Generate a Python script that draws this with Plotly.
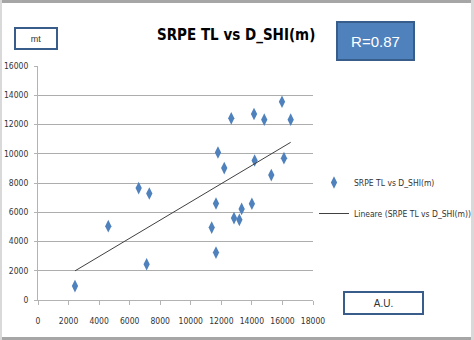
import numpy as np
import plotly.graph_objects as go

# Data
dist_m = [2420, 4600, 6590, 7285, 7110, 11370, 11650, 11650, 11780, 12190, 12650,
          12830, 13180, 13330, 14000, 14180, 14140, 14810, 15270, 15970, 16100, 16540]
srpe_tl = [950, 5050, 7650, 7280, 2440, 4950, 6600, 3240, 10090, 9020, 12420,
           5600, 5480, 6230, 6580, 9540, 12720, 12330, 8540, 13560, 9700, 12330]
x_ticks = [0, 2000, 4000, 6000, 8000, 10000, 12000, 14000, 16000, 18000]
y_ticks = [0, 2000, 4000, 6000, 8000, 10000, 12000, 14000, 16000]
series_name = "SRPE TL vs D_SHI(m)"
trend_name = "Lineare (SRPE TL vs D_SHI(m))"
r_label = "R=0.87"

W, H = 474, 340
ML, MR, MT, MB = 38, 161, 66, 40
PW, PH = W - ML - MR, H - MT - MB

def px(x):
    return (x - ML) / PW

def py(y):
    return (H - MB - y) / PH

slope, intercept = np.polyfit(dist_m, srpe_tl, 1)
tx = [min(dist_m), max(dist_m)]
ty = [slope * v + intercept for v in tx]

NARROW = "DejaVu Sans Condensed, Liberation Sans Narrow, DejaVu Sans, sans-serif"
SANS = "Liberation Sans, Arial, sans-serif"
BLUE = "#4F81BD"
DARKBLUE = "#385D8A"

fig = go.Figure()
fig.add_trace(go.Scatter(
    x=dist_m, y=srpe_tl, mode="markers", name=series_name,
    marker=dict(symbol="diamond-tall", size=9, color=BLUE),
    legendgroup="a",
))
fig.add_trace(go.Scatter(
    x=tx, y=ty, mode="lines", name=trend_name,
    line=dict(color="#404040", width=1),
    legendgroup="b",
))

tickfont = dict(family=NARROW, size=8.5, color="#333333")
fig.update_xaxes(range=[0, 18000], tickvals=x_ticks, ticktext=[str(v) for v in x_ticks],
                 showgrid=False, showline=True, linecolor="#B3B3B3", linewidth=1,
                 ticks="outside", ticklen=4, tickcolor="#B3B3B3", tickfont=tickfont,
                 zeroline=False, ticklabelstandoff=9)
fig.update_yaxes(range=[0, 16000], tickvals=y_ticks, ticktext=[str(v) for v in y_ticks],
                 showgrid=True, gridcolor="#ADADAD", gridwidth=1,
                 showline=True, linecolor="#B3B3B3", linewidth=1,
                 ticks="outside", ticklen=3, tickcolor="#B3B3B3", tickfont=tickfont,
                 zeroline=False, ticklabelstandoff=4)

shapes = [
    dict(type="line", xref="paper", yref="paper", x0=px(0), x1=px(W), y0=py(1.5), y1=py(1.5),
         line=dict(color="#A6A6A6", width=3)),
    dict(type="line", xref="paper", yref="paper", x0=px(0), x1=px(W), y0=py(338.5), y1=py(338.5),
         line=dict(color="#A6A6A6", width=3)),
    dict(type="line", xref="paper", yref="paper", x0=px(1), x1=px(1), y0=py(0), y1=py(H),
         line=dict(color="#D9D9D9", width=2)),
    dict(type="line", xref="paper", yref="paper", x0=px(472.5), x1=px(472.5), y0=py(0), y1=py(H),
         line=dict(color="#D9D9D9", width=3)),
]

def box(text, cx, cy, w, h, bg, fc, size):
    return dict(
        text=text, xref="paper", yref="paper", x=px(cx), y=py(cy),
        xanchor="center", yanchor="middle", showarrow=False,
        width=w, height=h, bgcolor=bg, bordercolor=DARKBLUE, borderwidth=2, borderpad=0,
        font=dict(family=SANS, size=size, color=fc), align="center", valign="middle",
    )

annotations = [
    dict(text=series_name, xref="paper", yref="paper", x=px(236), y=py(35),
         xanchor="center", yanchor="middle", showarrow=False,
         font=dict(family=NARROW, size=15, color="#000000", weight="bold")),
    box("mt", 35.5, 38, 40, 19, "white", "#333333", 9),
    box(r_label, 375, 41.5, 75, 36, BLUE, "white", 15),
    box("A.U.", 383, 302.5, 77, 20, "white", "#333333", 10),
]

fig.update_layout(
    width=W, height=H, margin=dict(l=ML, r=MR, t=MT, b=MB, autoexpand=False),
    paper_bgcolor="white", plot_bgcolor="white",
    shapes=shapes, annotations=annotations,
    showlegend=True,
    legend=dict(x=px(314), y=py(168), xanchor="left", yanchor="top",
                font=dict(family=NARROW, size=8.5, color="#333333"),
                bgcolor="rgba(0,0,0,0)", tracegroupgap=12, traceorder="grouped",
                itemwidth=30),
)

fig.write_html("out.html")
